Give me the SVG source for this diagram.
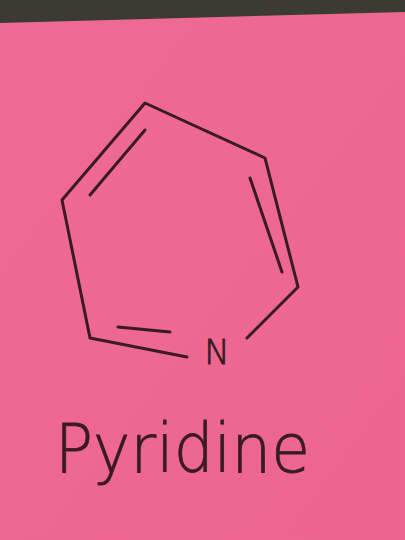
<svg xmlns="http://www.w3.org/2000/svg" width="405" height="540" viewBox="0 0 405 540">
<defs>
<style>
.bond{fill:none;stroke:#3a1a24;stroke-width:3;stroke-linecap:round;stroke-linejoin:round}
.hand{font-family:"DejaVu Sans","Liberation Sans",sans-serif;font-weight:200;fill:#3a1a24;stroke:#3a1a24;stroke-width:0.8}
</style>
<linearGradient id="paper" x1="0" y1="0" x2="1" y2="1">
<stop offset="0" stop-color="#f06b94"/>
<stop offset="1" stop-color="#eb658e"/>
</linearGradient>
</defs>
<rect x="0" y="0" width="405" height="540" fill="#3b3a33"/>
<polygon points="0,23 405,12 405,540 0,540" fill="url(#paper)"/>
<g id="connectors">
<polyline class="bond" points="187,357 90,338 62,200 145,103 265,158 298,287 247,338"/>
<line class="bond" x1="145" y1="130" x2="90" y2="195"/>
<line class="bond" x1="250" y1="178" x2="282" y2="272"/>
<line class="bond" x1="118" y1="327" x2="170" y2="332"/>
</g>
<g id="atom-N">
<text class="hand" x="217" y="364" font-size="34" text-anchor="middle">N</text>
</g>
<g id="title">
<text class="hand" x="55" y="472" font-size="68" textLength="255" lengthAdjust="spacingAndGlyphs">Pyridine</text>
</g>
</svg>
